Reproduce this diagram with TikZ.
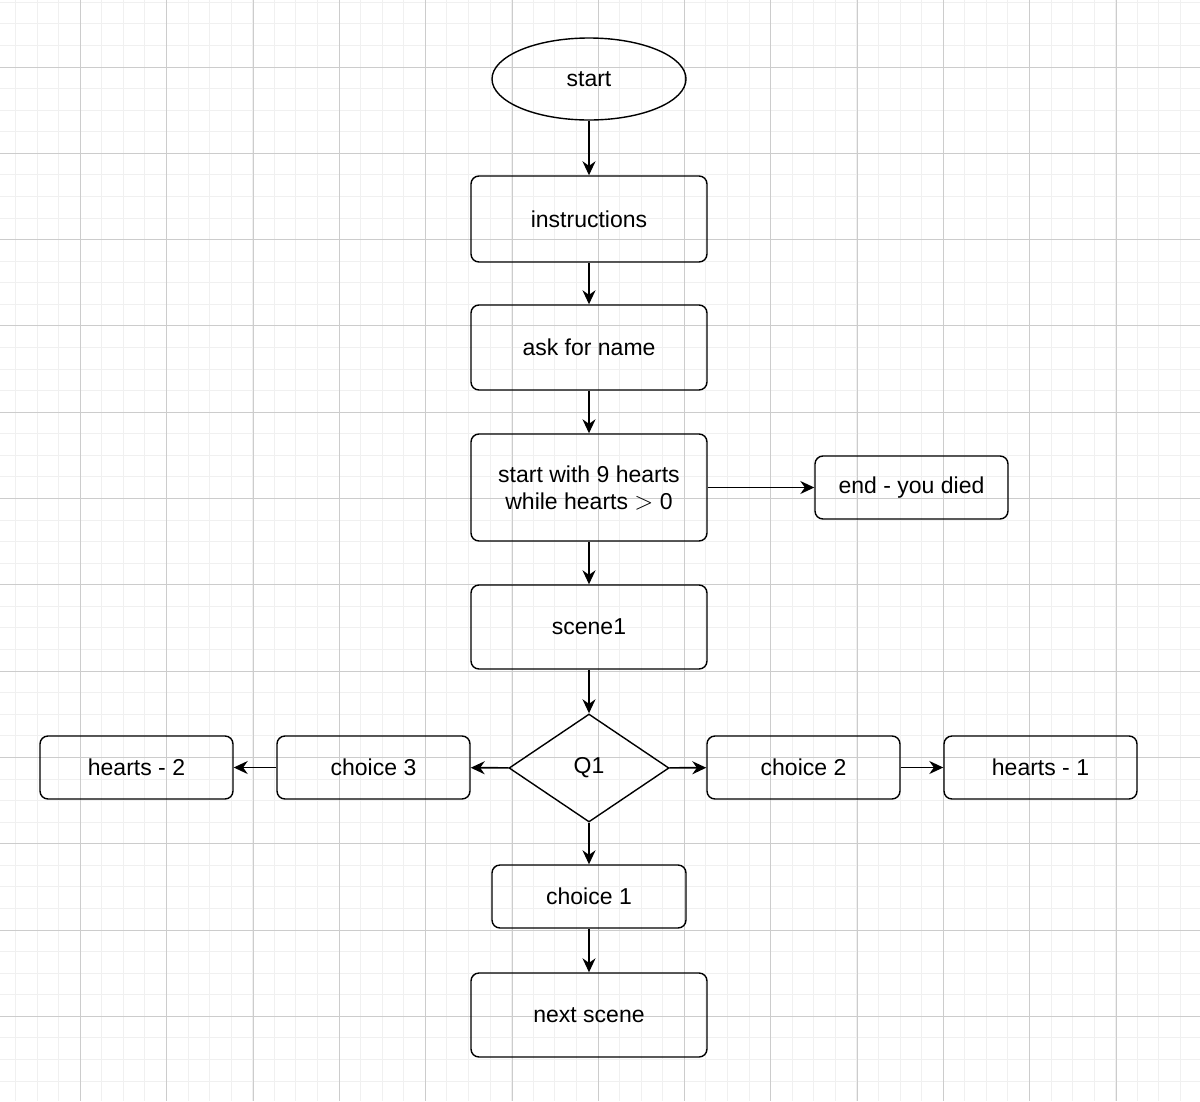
\documentclass[tikz,border=0pt]{standalone}
\usepackage{fontspec}
\setmainfont{Liberation Sans}
\usetikzlibrary{shapes.geometric,arrows.meta}
\begin{document}
\begin{tikzpicture}[x=1pt,y=-1pt,
  every node/.style={font=\fontsize{23}{27}\selectfont, align=center},
  box/.style={draw, line width=1.4pt, rounded corners=8pt, minimum width=#1, inner sep=0pt},
  arr/.style={draw, line width=1.6pt, -{Stealth[length=14pt,width=13pt]}}]
\useasboundingbox (0,0) rectangle (1200,1101);
\fill[white] (0,0) rectangle (1200,1101);
\foreach \i in {0,...,56} {
  \draw[gray!12, line width=1pt] ({-6.1+21.575*\i},0) -- ++(0,1101);
  \draw[gray!12, line width=1pt] (0,{2.3+21.575*\i}) -- ++(1200,0);
}
\foreach \i in {0,...,14} {
  \draw[gray!40, line width=0.9pt] ({-5.8+86.3*\i},0) -- ++(0,1101);
  \draw[gray!40, line width=0.9pt] (0,{-19.3+86.3*\i}) -- ++(1200,0);
}
\node[draw, line width=1.4pt, ellipse, minimum width=194, minimum height=82, inner sep=0pt] (start) at (589,79) {start};
\node[box=236, minimum height=86] (instr) at (589,219) {instructions};
\node[box=236, minimum height=85] (ask) at (589,347.5) {ask for name};
\node[box=236, minimum height=107] (hearts) at (589,487.5) {start with 9 hearts\\while hearts $>$ 0};
\node[box=193, minimum height=63] (died) at (911.5,487.5) {end - you died};
\node[box=236, minimum height=84] (scene) at (589,627) {scene1};
\node[draw, line width=1.4pt, diamond, aspect=1.48, minimum width=160, minimum height=108, inner sep=0pt] (q) at (589,768) {Q1};
\node[box=193, minimum height=63] (c3) at (373.5,767.5) {choice 3};
\node[box=193, minimum height=63] (h2) at (136.5,767.5) {hearts - 2};
\node[box=193, minimum height=63] (c2) at (803.5,767.5) {choice 2};
\node[box=193, minimum height=63] (h1) at (1040.5,767.5) {hearts - 1};
\node[box=194, minimum height=63] (c1) at (589,896.5) {choice 1};
\node[box=236, minimum height=84] (next) at (589,1015) {next scene};
\draw[arr] (start) -- (instr);
\draw[arr] (instr) -- (ask);
\draw[arr] (ask) -- (hearts);
\draw[arr] (hearts) -- (died);
\draw[arr] (hearts) -- (scene);
\draw[arr] (scene) -- (q);
\draw[arr] (q) -- (c3);
\draw[arr] (c3) -- (h2);
\draw[arr] (q) -- (c2);
\draw[arr] (c2) -- (h1);
\draw[arr] (q) -- (c1);
\draw[arr] (c1) -- (next);
\end{tikzpicture}
\end{document}
